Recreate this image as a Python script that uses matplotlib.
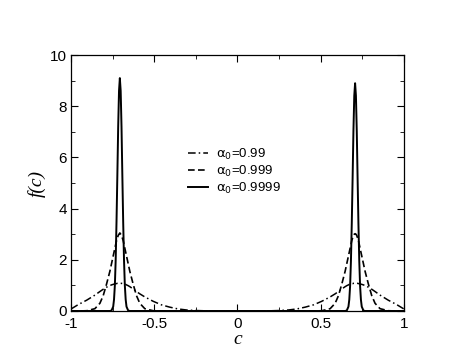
import matplotlib
matplotlib.use("Agg")
import matplotlib.pyplot as plt
from matplotlib.ticker import MultipleLocator

# c values (dense near the peaks at +-0.707)
c = [-1.0, -0.957, -0.907, -0.857, -0.827, -0.807, -0.787, -0.767, -0.757, -0.747,
     -0.742, -0.737, -0.732, -0.727, -0.722, -0.717, -0.712, -0.707, -0.702, -0.697,
     -0.692, -0.687, -0.682, -0.677, -0.672, -0.667, -0.657, -0.647, -0.627, -0.607,
     -0.587, -0.557, -0.507, -0.457, -0.407, -0.357, -0.307, -0.257, -0.207, -0.1,
     0.0,
     0.1, 0.207, 0.257, 0.307, 0.357, 0.407, 0.457, 0.507, 0.557, 0.587,
     0.607, 0.627, 0.647, 0.657, 0.667, 0.672, 0.677, 0.682, 0.687, 0.692,
     0.697, 0.702, 0.707, 0.712, 0.717, 0.722, 0.727, 0.732, 0.737, 0.742,
     0.747, 0.757, 0.767, 0.787, 0.807, 0.827, 0.857, 0.907, 0.957, 1.0]

# alpha_0 = 0.99 (dash-dot)
f_099 = [0.08, 0.25, 0.42, 0.62, 0.76, 0.85, 0.93, 0.99, 1.02, 1.04,
         1.05, 1.06, 1.07, 1.07, 1.08, 1.08, 1.08, 1.08, 1.08, 1.08,
         1.07, 1.07, 1.06, 1.05, 1.04, 1.02, 0.99, 0.95, 0.86, 0.76,
         0.67, 0.55, 0.38, 0.24, 0.15, 0.08, 0.04, 0.02, 0.01, 0.0,
         0.0,
         0.0, 0.01, 0.02, 0.04, 0.08, 0.15, 0.24, 0.38, 0.55, 0.67,
         0.76, 0.86, 0.95, 0.99, 1.02, 1.04, 1.05, 1.06, 1.07, 1.07,
         1.08, 1.08, 1.08, 1.08, 1.08, 1.08, 1.07, 1.07, 1.06, 1.05,
         1.04, 1.02, 0.99, 0.93, 0.85, 0.76, 0.62, 0.42, 0.25, 0.08]

# alpha_0 = 0.999 (dashed)
f_0999 = [0.0, 0.0, 0.01, 0.09, 0.3, 0.6, 1.05, 1.55, 1.85, 2.15,
          2.3, 2.45, 2.6, 2.75, 2.85, 2.95, 3.0, 3.05, 3.0, 2.95,
          2.85, 2.75, 2.6, 2.45, 2.3, 2.15, 1.85, 1.55, 1.05, 0.6,
          0.3, 0.09, 0.01, 0.0, 0.0, 0.0, 0.0, 0.0, 0.0, 0.0,
          0.0,
          0.0, 0.0, 0.0, 0.0, 0.0, 0.0, 0.0, 0.01, 0.09, 0.3,
          0.6, 1.05, 1.55, 1.85, 2.15, 2.3, 2.45, 2.6, 2.75, 2.85,
          2.95, 3.0, 3.02, 3.0, 2.95, 2.85, 2.75, 2.6, 2.45, 2.3,
          2.15, 1.85, 1.55, 1.05, 0.6, 0.3, 0.09, 0.01, 0.0, 0.0]

# alpha_0 = 0.9999 (solid)
f_09999 = [0.0, 0.0, 0.0, 0.0, 0.0, 0.0, 0.0, 0.0, 0.02, 0.17,
           0.45, 1.0, 2.0, 3.5, 5.3, 7.2, 8.6, 9.1, 8.6, 7.2,
           5.3, 3.5, 2.0, 1.0, 0.45, 0.17, 0.02, 0.0, 0.0, 0.0,
           0.0, 0.0, 0.0, 0.0, 0.0, 0.0, 0.0, 0.0, 0.0, 0.0,
           0.0,
           0.0, 0.0, 0.0, 0.0, 0.0, 0.0, 0.0, 0.0, 0.0, 0.0,
           0.0, 0.0, 0.0, 0.02, 0.17, 0.44, 0.98, 1.96, 3.42, 5.18,
           7.04, 8.41, 8.9, 8.41, 7.04, 5.18, 3.42, 1.96, 0.98, 0.44,
           0.17, 0.02, 0.0, 0.0, 0.0, 0.0, 0.0, 0.0, 0.0, 0.0]

labels = [r"$\mathrm{\alpha}_0$=0.99", r"$\mathrm{\alpha}_0$=0.999", r"$\mathrm{\alpha}_0$=0.9999"]

plt.rcParams["font.family"] = ["Liberation Sans", "DejaVu Sans"]

fig = plt.figure(figsize=(4.74, 3.53), dpi=100)
ax = fig.add_axes([0.150, 0.119, 0.702, 0.725])

ax.plot(c, f_099, color="black", lw=1.1, linestyle=(0, (5, 2, 1, 2)), label=labels[0])
ax.plot(c, f_0999, color="black", lw=1.2, linestyle=(0, (4, 2)), label=labels[1])
ax.plot(c, f_09999, color="black", lw=1.4, linestyle="-", label=labels[2])

ax.set_xlim(-1, 1)
ax.set_ylim(0, 10)
ax.xaxis.set_major_locator(MultipleLocator(0.5))
ax.xaxis.set_minor_locator(MultipleLocator(0.25))
ax.yaxis.set_major_locator(MultipleLocator(2))
ax.yaxis.set_minor_locator(MultipleLocator(1))
ax.set_xticklabels(["", "-1", "-0.5", "0", "0.5", "1"])
ax.tick_params(which="both", direction="in", top=True, right=True, labelsize=11)
ax.tick_params(axis="x", pad=4)
ax.tick_params(axis="y", pad=3)
ax.tick_params(which="major", length=5)
ax.tick_params(which="minor", length=3)
for s in ax.spines.values():
    s.set_linewidth(0.9)

ax.set_xlabel("c", fontsize=14, family="Liberation Serif", style="italic", labelpad=0)
ax.set_ylabel("f(c)", fontsize=14, family="Liberation Serif", style="italic", labelpad=3)

ax.legend(loc="center", bbox_to_anchor=(0.49, 0.545), frameon=False, fontsize=9.5,
          handlelength=1.5, handletextpad=0.6, labelspacing=0.15)

fig.savefig("out.png", dpi=100)
